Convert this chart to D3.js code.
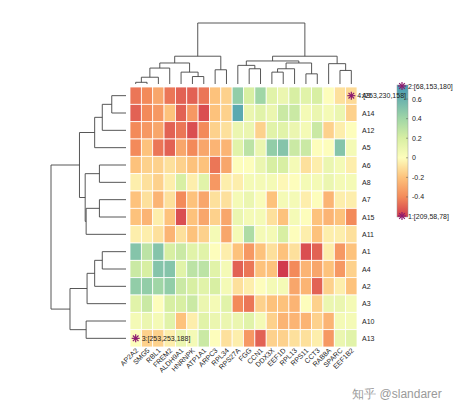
<!DOCTYPE html>
<html><head><meta charset="utf-8">
<script src="https://cdn.jsdelivr.net/npm/d3@7"></script>
<style>body{margin:0;background:#fff}text{font-family:"Liberation Sans",Arial,sans-serif}</style>
</head><body>
<script>
var cols = ['AP2A2','SMG5','RBL1','FREM2','ALDH9A1','HNRNPK','ATP1A1','ARPC3','RPL34','RPS27A','FGG','CCN1','DDX3X','EEF1D','RPL13','RPS11','CCT3','RAB8A','SPARC','EEF1B2']
var rows = ['A9','A14','A12','A5','A6','A8','A7','A15','A11','A1','A4','A2','A3','A10','A13']
var values = [
  [-0.45,-0.4,-0.3,-0.45,-0.5,-0.5,-0.45,-0.2,-0.15,0.45,0.2,0.4,0.15,0.1,0.2,0.15,0.2,0.0,-0.1,-0.12],
  [-0.5,-0.4,-0.35,-0.2,-0.5,-0.35,-0.55,-0.2,-0.15,0.65,0.1,0.15,0.1,0.25,0.25,0.05,0.1,0.05,0.1,-0.15],
  [-0.4,-0.35,-0.3,-0.5,-0.45,-0.55,-0.4,-0.15,-0.1,0.1,0.1,-0.15,0.15,0.15,0.1,0.05,0.25,-0.15,-0.05,0.0],
  [-0.4,-0.2,-0.45,-0.5,-0.3,-0.4,-0.3,-0.25,-0.25,0.15,0.3,0.1,0.45,0.5,0.25,0.25,0.0,0.0,0.5,0.05],
  [-0.2,-0.15,-0.15,-0.1,-0.15,-0.2,-0.2,-0.45,-0.3,0.0,0.0,0.1,0.2,0.2,0.05,-0.1,-0.05,0.1,0.05,-0.05],
  [-0.05,-0.1,-0.15,-0.05,0.2,-0.05,0.15,-0.35,-0.05,-0.05,0.05,0.05,0.05,-0.02,0.0,0.05,0.05,0.1,0.05,0.05],
  [-0.2,-0.1,-0.25,-0.1,-0.4,-0.2,-0.3,-0.1,-0.1,0.05,0.1,0.02,-0.2,0.05,0.05,-0.05,0.0,-0.25,-0.05,-0.05],
  [-0.2,-0.25,-0.05,-0.2,-0.55,-0.2,-0.3,-0.15,-0.3,0.1,0.05,0.05,-0.1,-0.2,0.05,0.0,-0.2,-0.25,-0.2,-0.4],
  [-0.05,-0.05,-0.1,-0.25,-0.1,-0.2,-0.15,0.05,-0.3,0.05,0.35,0.05,0.05,0.2,0.0,-0.05,-0.2,-0.05,-0.05,-0.1],
  [0.5,0.3,0.5,0.2,0.25,0.15,0.15,0.0,-0.05,-0.2,-0.35,-0.2,-0.1,-0.2,-0.1,-0.55,-0.5,-0.05,-0.35,-0.2],
  [0.25,0.2,0.5,0.5,0.15,0.3,0.3,0.15,0.05,-0.5,-0.45,-0.2,-0.2,-0.6,-0.4,-0.25,-0.3,-0.2,-0.35,-0.15],
  [0.45,0.45,0.4,0.45,0.25,0.2,0.15,0.2,0.05,-0.1,-0.05,0.0,0.05,0.05,-0.3,-0.25,-0.5,-0.15,-0.05,-0.2],
  [0.15,0.25,0.0,0.2,0.2,0.25,0.1,0.05,0.15,-0.4,-0.45,-0.15,-0.2,-0.2,-0.25,0.0,-0.15,0.1,0.1,0.05],
  [0.05,0.1,0.05,0.15,-0.2,-0.05,0.15,0.1,0.1,0.1,0.15,0.05,-0.15,-0.25,-0.25,-0.25,-0.15,-0.25,0.05,0.05],
  [0.0,-0.15,-0.15,-0.05,0.1,0.05,0.25,0.0,-0.1,-0.05,-0.35,-0.5,-0.15,-0.15,-0.1,-0.1,-0.05,-0.35,0.1,0.15]
]
// linkage trees: [height, left, right], leaves are indexes
var colTree = [180, [82, [62, [47, [20, [5, 0, 1], 2], 3], [35, 4, [22, 5, 6]]], [42, 7, 8]],
  [82, [68, [55, 9, [45, 10, 11]], [62, [45, [35, 12, 13], 14], [30, 15, 16]]], [60, 17, [40, 18, 19]]]]
var rowTree = [79, [49, [33, [25, [15, 0, 1], 2], 3], [43, [28, 4, 5], [42, [28, 6, 7], 8]]],
  [59, [41, [33, [25, 9, 10], 11], 12], [42, 13, 14]]]
var cbTicks = [-0.4, -0.2, 0, 0.2, 0.4, 0.6]
var marks = [{r: 0, c: 19, t: '4:[253,230,158]'}, {r: 14, c: 0, t: '3:[253,253,188]'}]

var W = 474, H = 420
var svg = d3.select('body').append('svg').attr('width', W).attr('height', H)
var x = d3.scaleBand().domain(d3.range(cols.length)).range([130, 357])
var y = d3.scaleBand().domain(d3.range(rows.length)).range([87, 347])
var color = d3.scaleLinear()
  .domain([-0.6, -0.4, -0.2, 0, 0.2, 0.4, 0.74])
  .range(['#d13a4e', '#f38a5a', '#fdc27c', '#fdfdbc', '#d8efa3', '#a0d6a6', '#4499b4'])
  .clamp(true)

// cells
values.forEach(function (row, r) {
  svg.append('g').selectAll('rect').data(row).join('rect')
    .attr('x', function (d, c) { return x(c) })
    .attr('y', y(r))
    .attr('width', x.bandwidth()).attr('height', y.bandwidth())
    .attr('fill', function (d) { return color(d) })
    .attr('stroke', '#fff').attr('stroke-width', 0.8)
})

// dendrograms
function drawTree(tree, pos, hs, vertical) {
  var g = svg.append('g').attr('fill', 'none').attr('stroke', '#444').attr('stroke-width', 0.9)
  function walk(n) {
    if (typeof n === 'number') return {p: pos(n), h: 0}
    var a = walk(n[1]), b = walk(n[2]), h = n[0]
    var pts = [[a.p, hs(a.h)], [a.p, hs(h)], [b.p, hs(h)], [b.p, hs(b.h)]]
    if (!vertical) pts = pts.map(function (q) { return [q[1], q[0]] })
    g.append('path').attr('d', d3.line()(pts))
    return {p: (a.p + b.p) / 2, h: h}
  }
  walk(tree)
}
drawTree(colTree, function (i) { return x(i) + x.bandwidth() / 2 }, d3.scaleLinear().domain([0, 180]).range([84, 23]), true)
drawTree(rowTree, function (i) { return y(i) + y.bandwidth() / 2 }, d3.scaleLinear().domain([0, 79]).range([126, 51]), false)

// labels
svg.append('g').selectAll('text').data(rows).join('text')
  .attr('x', 362).attr('y', function (d, i) { return y(i) + y.bandwidth() / 2 + 2.5 })
  .attr('font-size', 7).attr('fill', '#222').text(function (d) { return d })
svg.append('g').selectAll('text').data(cols).join('text')
  .attr('transform', function (d, i) { return 'translate(' + (x(i) + x.bandwidth() / 2 + 3) + ',351) rotate(-45)' })
  .attr('text-anchor', 'end').attr('font-size', 7).attr('fill', '#222').text(function (d) { return d })

// colorbar
var cy = d3.scaleLinear().domain([-0.605, 0.744]).range([217, 85])
var grad = svg.append('defs').append('linearGradient').attr('id', 'cb')
  .attr('x1', 0).attr('y1', 1).attr('x2', 0).attr('y2', 0)
color.domain().forEach(function (v) {
  grad.append('stop').attr('offset', (v - cy.domain()[0]) / (cy.domain()[1] - cy.domain()[0]))
    .attr('stop-color', color(v))
})
svg.append('rect').attr('x', 397).attr('y', 85).attr('width', 11).attr('height', 132)
  .attr('fill', 'url(#cb)').attr('stroke', '#999').attr('stroke-width', 0.5)
var cbg = svg.append('g')
cbg.selectAll('line').data(cbTicks).join('line')
  .attr('x1', 406).attr('x2', 408).attr('y1', cy).attr('y2', cy).attr('stroke', '#555').attr('stroke-width', 0.5)
cbg.selectAll('text').data(cbTicks).join('text')
  .attr('x', 412).attr('y', function (d) { return cy(d) + 2.5 }).attr('font-size', 7).attr('fill', '#222')
  .text(function (d) { return d })

// data tips
function star(px, py) {
  var s = svg.append('g').attr('stroke', '#8e1a6e').attr('stroke-width', 1.2)
  ;[0, 45, 90, 135].forEach(function (a) {
    var r = a * Math.PI / 180
    s.append('line').attr('x1', px - 4 * Math.cos(r)).attr('y1', py - 4 * Math.sin(r))
      .attr('x2', px + 4 * Math.cos(r)).attr('y2', py + 4 * Math.sin(r))
  })
}
marks.forEach(function (m) {
  var px = x(m.c) + x.bandwidth() / 2, py = y(m.r) + y.bandwidth() / 2
  star(px, py)
  svg.append('text').attr('x', px + 6).attr('y', py + 2.5).attr('font-size', 7).attr('fill', '#222').text(m.t)
})
star(402, 86)
svg.append('text').attr('x', 408).attr('y', 89).attr('font-size', 7).attr('fill', '#222').text('2:[68,153,180]')
star(402, 216)
svg.append('text').attr('x', 408).attr('y', 219).attr('font-size', 7).attr('fill', '#222').text('1:[209,58,78]')

svg.append('text').attr('x', 397).attr('y', 398).attr('text-anchor', 'middle')
  .attr('font-size', 12).attr('fill', '#9a9a9a').attr('font-family', 'Noto Sans CJK SC').text('知乎 @slandarer')
</script>
</body></html>
